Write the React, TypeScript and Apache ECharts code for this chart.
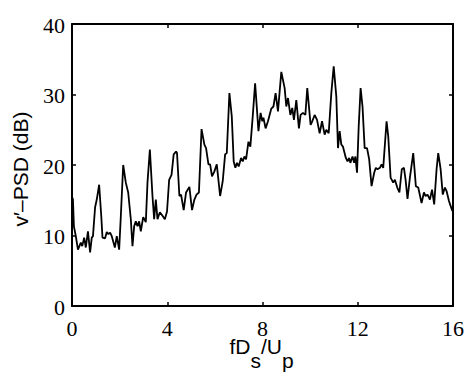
import React, { useEffect, useRef } from "react";
import * as echarts from "echarts";

const freq: number[] = [
  0, 0.04, 0.08, 0.16, 0.25, 0.37, 0.43, 0.51, 0.58, 0.67, 0.76, 0.83, 0.88, 0.97, 1.04, 1.14, 1.23, 1.28,
  1.39, 1.46, 1.53, 1.6, 1.67, 1.8, 1.88, 1.98, 2.05, 2.15, 2.26, 2.36, 2.47, 2.54, 2.61, 2.68, 2.75, 2.82,
  2.89, 2.99, 3.1, 3.17, 3.27, 3.38, 3.45, 3.52, 3.59, 3.69, 3.8, 3.9, 3.99, 4.08, 4.18, 4.27, 4.37, 4.41,
  4.51, 4.58, 4.69, 4.79, 4.93, 5.04, 5.14, 5.23, 5.33, 5.44, 5.56, 5.63, 5.73, 5.8, 5.88, 5.98, 6.08, 6.22,
  6.33, 6.43, 6.5, 6.61, 6.71, 6.79, 6.86, 6.93, 7.0, 7.1, 7.17, 7.24, 7.31, 7.41, 7.49, 7.59, 7.69, 7.83,
  7.92, 7.99, 8.04, 8.13, 8.23, 8.37, 8.46, 8.55, 8.65, 8.79, 8.93, 9.0, 9.07, 9.17, 9.25, 9.32, 9.42, 9.53,
  9.6, 9.7, 9.8, 9.88, 10.02, 10.09, 10.19, 10.29, 10.4, 10.5, 10.61, 10.68, 10.78, 10.89, 10.99, 11.1,
  11.17, 11.24, 11.31, 11.38, 11.5, 11.57, 11.64, 11.69, 11.78, 11.85, 11.9, 11.97, 12.04, 12.12, 12.2,
  12.29, 12.39, 12.48, 12.58, 12.69, 12.76, 12.83, 12.93, 13.0, 13.07, 13.21, 13.28, 13.38, 13.49, 13.56,
  13.66, 13.75, 13.85, 13.94, 14.01, 14.09, 14.19, 14.33, 14.44, 14.54, 14.68, 14.78, 14.85, 14.93, 15.03,
  15.12, 15.21, 15.31, 15.38, 15.48, 15.57, 15.66, 15.73, 15.83, 15.9, 15.97, 16.0,
];

const psd: number[] = [
  15.5, 15.1, 11.3, 9.9, 8.0, 9.0, 8.5, 9.7, 8.3, 10.6, 7.6, 9.7, 9.9, 14.0, 15.1, 17.2, 12.7, 9.7,
  9.6, 10.5, 10.2, 10.4, 9.9, 8.3, 9.9, 8.0, 12.7, 20.0, 17.5, 16.1, 12.3, 8.5, 11.3, 12.0, 11.3, 12.0,
  10.6, 12.6, 11.9, 17.5, 22.2, 15.6, 12.3, 15.1, 12.3, 13.3, 12.8, 12.3, 13.4, 17.9, 18.6, 21.5, 21.9, 21.7,
  15.6, 15.8, 13.6, 16.1, 16.9, 13.6, 15.1, 15.8, 16.1, 25.1, 22.9, 22.4, 20.1, 20.1, 18.4, 19.1, 20.1, 15.6,
  17.7, 21.5, 21.7, 30.2, 26.9, 20.5, 19.6, 20.3, 19.8, 21.0, 20.5, 21.2, 20.8, 23.3, 22.6, 26.9, 31.6, 24.8,
  27.4, 26.2, 26.7, 25.2, 26.2, 28.0, 28.3, 30.2, 27.6, 33.2, 30.9, 28.3, 29.5, 27.1, 28.1, 26.4, 29.2, 25.2,
  27.1, 27.4, 27.1, 30.9, 25.7, 26.2, 27.1, 26.4, 24.5, 26.2, 24.3, 25.0, 24.5, 30.2, 34.0, 29.7,
  22.4, 24.8, 22.9, 22.6, 21.0, 20.5, 21.0, 20.3, 21.2, 20.3, 21.2, 18.9, 25.5, 30.9, 28.3,
  22.4, 22.4, 20.8, 17.0, 18.9, 19.6, 19.4, 19.6, 20.1, 19.6, 26.2, 24.1, 18.2, 17.5, 17.9,
  16.8, 16.1, 19.4, 19.6, 17.9, 15.2, 18.2, 21.7, 17.0, 16.8, 14.6, 16.1, 15.6, 15.8, 15.1,
  16.5, 14.4, 19.4, 21.7, 19.4, 15.8, 16.8, 16.3, 14.9, 14.2, 13.5, 13.5,
];

const xTickLabels: number[] = [0, 4, 8, 12, 16];
const yTickLabels: number[] = [0, 10, 20, 30, 40];
const xName = "{a|fD}{s|s}{a|/U}{s|p}";
const yName = "v′–PSD (dB)";

const xTicks = { min: 0, max: 16, interval: 4 };
const yTicks = { min: 0, max: 40, interval: 10 };

export default function App() {
  const ref = useRef<HTMLDivElement>(null);
  useEffect(() => {
    if (!ref.current) return;
    const chart = echarts.init(ref.current, undefined, { renderer: "svg" });
    const data = freq.map((f, i) => [f, psd[i]]);
    const axisLine = { show: true, onZero: false, lineStyle: { color: "#000", width: 2 } };
    const tick = { show: true, inside: true, length: 4, lineStyle: { color: "#000", width: 1.5 } };
    const serif = "Liberation Serif";
    const sans = "Liberation Sans";
    const grid = { left: 72, right: 21, top: 24, bottom: 73 };
    const baseAxis = { type: "value", axisLine, axisTick: tick, splitLine: { show: false }, axisLabel: { show: false } };

    chart.setOption({
      animation: false,
      backgroundColor: "#fff",
      grid,
      xAxis: [
        { ...baseAxis, ...xTicks, position: "bottom" },
        { ...baseAxis, ...xTicks, position: "top" },
      ],
      yAxis: [
        { ...baseAxis, ...yTicks, position: "left" },
        { ...baseAxis, ...yTicks, position: "right" },
      ],
      series: [
        {
          type: "line",
          data,
          xAxisIndex: 0,
          yAxisIndex: 0,
          showSymbol: false,
          lineStyle: { color: "#000", width: 1.8 },
        },
      ],
    });

    const left = chart.convertToPixel({ xAxisIndex: 0 }, 0) as number;
    const right = chart.convertToPixel({ xAxisIndex: 0 }, 16) as number;
    const bottom = chart.convertToPixel({ yAxisIndex: 0 }, 0) as number;
    const top = chart.convertToPixel({ yAxisIndex: 0 }, 40) as number;

    const graphic: any[] = [];
    yTickLabels.forEach((v) => {
      graphic.push({
        type: "text",
        x: left - 7,
        y: (chart.convertToPixel({ yAxisIndex: 0 }, v) as number) + 1,
        style: { text: String(v), fontFamily: serif, fontSize: 22, fill: "#000", align: "right", verticalAlign: "middle", lineHeight: 16 },
      });
    });
    xTickLabels.forEach((v) => {
      graphic.push({
        type: "text",
        x: chart.convertToPixel({ xAxisIndex: 0 }, v) as number,
        y: bottom + 22,
        style: { text: String(v), fontFamily: serif, fontSize: 22, fill: "#000", align: "center", verticalAlign: "middle", lineHeight: 16 },
      });
    });
    graphic.push({
      type: "text",
      x: (left + right) / 2 - 1,
      y: bottom + 30,
      style: {
        text: xName,
        fontFamily: sans,
        fontSize: 21,
        fill: "#000",
        align: "center",
        verticalAlign: "top",
        rich: {
          a: { fontFamily: sans, fontSize: 21, fill: "#000", color: "#000", lineHeight: 22, verticalAlign: "top" },
          s: { fontFamily: sans, fontSize: 21, fill: "#000", color: "#000", lineHeight: 22, verticalAlign: "top", padding: [14, 0, 0, 0] },
        },
      },
    });
    graphic.push({
      type: "text",
      x: 20,
      y: (top + bottom) / 2 + 4,
      rotation: Math.PI / 2,
      style: { text: yName, fontFamily: sans, fontSize: 21, fill: "#000", align: "center", verticalAlign: "middle" },
    });
    chart.setOption({ graphic });
    return () => chart.dispose();
  }, []);
  return <div ref={ref} style={{ width: 474, height: 379, position: "absolute", left: 0, top: 0 }} />;
}
